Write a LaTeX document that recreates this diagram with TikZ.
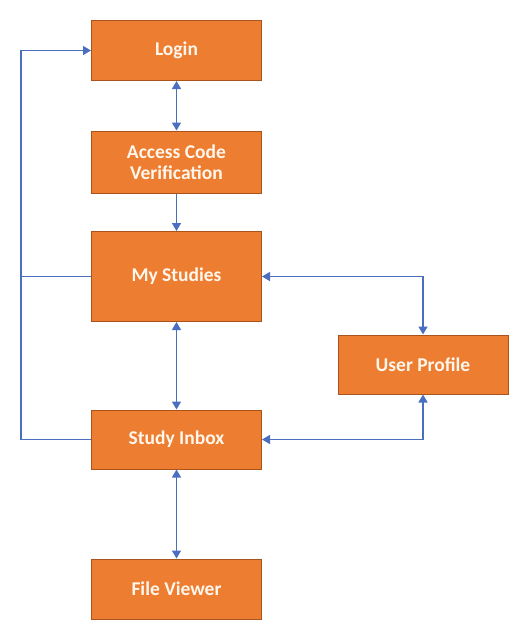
\documentclass[tikz,border=0pt]{standalone}
\usepackage{fontspec}
\setmainfont{Carlito}
\usetikzlibrary{arrows.meta}
\definecolor{boxfill}{HTML}{ED7D31}
\definecolor{boxline}{HTML}{A8541C}
\definecolor{txt}{HTML}{FFF6EC}
\definecolor{conn}{HTML}{4A6FC0}
\begin{document}
\begin{tikzpicture}[x=1pt,y=-1pt,
  box/.style={draw=boxline,line width=1pt,fill=boxfill,text=txt,inner sep=0pt,
    minimum width=170pt,minimum height=60pt,align=center,
    font=\fontsize{19.5}{21}\selectfont\bfseries},
  conline/.style={draw=conn,line width=1.4pt},
  tip/.tip={Triangle[length=8pt,width=9pt]}]
\useasboundingbox (0,0) rectangle (525,641);
\node[box] (login) at (176.5,50.5) {Login};
\node[box,minimum height=62pt] (access) at (176.5,162) {Access Code\\Verification};
\node[box,minimum height=90pt] (my) at (176.5,276.5) {My Studies};
\node[box,minimum height=59pt] (profile) at (423,364.5) {User Profile};
\node[box,minimum height=59pt] (inbox) at (176.5,439.5) {Study Inbox};
\node[box] (file) at (176.5,589) {File Viewer};
\coordinate (lt) at (21,50.5);
\coordinate (lb) at (21,439.5);
\draw[conline,{tip}-{tip}] (login.south) -- (access.north);
\draw[conline,-{tip}] (access.south) -- (my.north);
\draw[conline,{tip}-{tip}] (my.south) -- (inbox.north);
\draw[conline,{tip}-{tip}] (inbox.south) -- (file.north);
\draw[conline,-{tip}] (inbox.west) -- (lb) -- (lt) -- (login.west);
\draw[conline] (my.west) -- (my.west -| lt);
\draw[conline,{tip}-{tip}] (my.east) -| (profile.north);
\draw[conline,{tip}-{tip}] (inbox.east) -| (profile.south);
\end{tikzpicture}
\end{document}
